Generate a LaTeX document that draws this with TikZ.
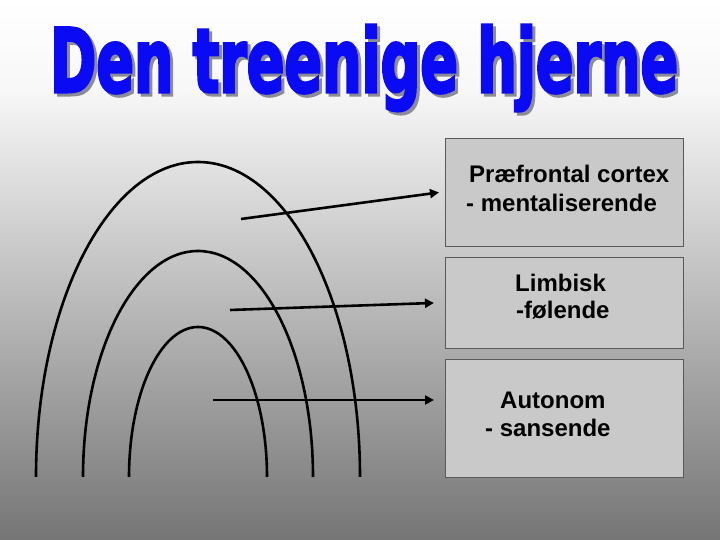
\documentclass[tikz,border=0pt]{standalone}
\usepackage{fontspec}
\usepackage{graphicx}
\setmainfont{Liberation Sans}
\newfontfamily\titlefont{DejaVu Sans Condensed Bold}
\usetikzlibrary{arrows.meta}
\definecolor{bgtop}{gray}{1}
\definecolor{bgmid}{gray}{0.97}
\definecolor{bgbot}{gray}{0.46}
\definecolor{boxgray}{gray}{0.79}
\definecolor{titleblue}{RGB}{10,10,245}
\definecolor{shadowgray}{RGB}{140,140,150}
\newcommand{\heavytext}[1]{\special{pdf:literal direct 2 Tr 0.35 w}#1\special{pdf:literal direct 0 Tr}}
\pgfdeclareverticalshading{bgshade}{100bp}{color(0bp)=(bgbot); color(25bp)=(bgbot); color(66.67bp)=(bgmid); color(75bp)=(bgtop); color(100bp)=(bgtop)}
\begin{document}
\begin{tikzpicture}[x=1pt,y=1pt,
  arcline/.style={line width=2.6pt},
  arrowline/.style={line width=2.6pt,-{Triangle[length=9pt,width=9pt]}},
  infobox/.style={draw=black!65,line width=1.1pt,fill=boxgray,minimum width=238pt,anchor=south west,inner sep=0pt},
  boxlabel/.style={font=\bfseries\fontsize{24}{29}\selectfont,anchor=base west,inner sep=0pt},
  titletext/.style={anchor=base west,inner sep=0pt,font=\titlefont}]
\useasboundingbox (0,0) rectangle (720,540);
\shade[shading=bgshade] (0,0) rectangle (720,540);
% title
\node[titletext,text=shadowgray] (tshadow) at (53,445) {\resizebox{628pt}{67pt}{\heavytext{Den treenige hjerne}}};
\node[titletext,text=titleblue] (title) at (50,448) {\resizebox{628pt}{67pt}{\heavytext{Den treenige hjerne}}};
% arcs
\draw[arcline] (36,63) arc[start angle=180,end angle=0,x radius=162pt,y radius=315pt];
\draw[arcline] (83,63) arc[start angle=180,end angle=0,x radius=115pt,y radius=226pt];
\draw[arcline] (129,63) arc[start angle=180,end angle=0,x radius=69pt,y radius=150pt];
% boxes
\node[infobox,minimum height=108pt] (b1) at (445,293) {};
\node[infobox,minimum height=91pt] (b2) at (445,191) {};
\node[infobox,minimum height=118pt] (b3) at (445,62) {};
% labels
\node[boxlabel] (t1a) at (469,357) {Præfrontal cortex};
\node[boxlabel] (t1b) at (466,328) {- mentaliserende};
\node[boxlabel] (t2a) at (515,248) {Limbisk};
\node[boxlabel] (t2b) at (516,221) {-følende};
\node[boxlabel] (t3a) at (500,131) {Autonom};
\node[boxlabel] (t3b) at (485,103) {- sansende};
% arrows
\coordinate (s1) at (241,321);
\coordinate (s2) at (230,230);
\coordinate (s3) at (213,140);
\draw[arrowline] (s1) -- ([xshift=-6pt]b1.west);
\draw[arrowline] (s2) -- ([xshift=-11pt]b2.west);
\draw[arrowline] (s3) -- ([xshift=-11pt]s3 -| b3.west);
\end{tikzpicture}
\end{document}
